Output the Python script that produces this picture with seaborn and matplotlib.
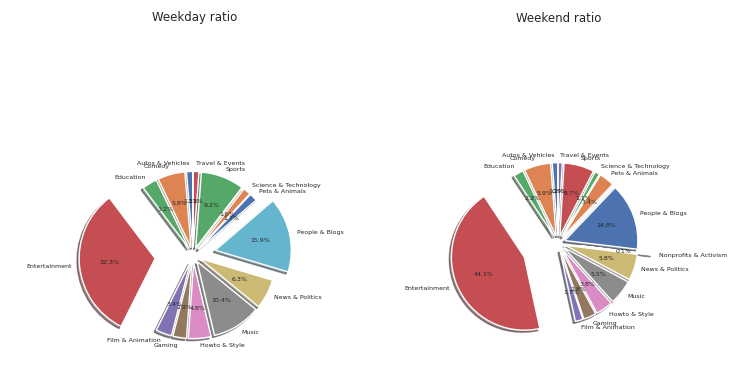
import matplotlib
matplotlib.use("Agg")
import matplotlib.pyplot as plt
import seaborn as sns

weekday_labels = ["Autos & Vehicles", "Comedy", "Education", "Entertainment",
                  "Film & Animation", "Gaming", "Howto & Style", "Music",
                  "News & Politics", "People & Blogs", "Pets & Animals",
                  "Science & Technology", "Sports", "Travel & Events"]
weekday_values = [1.3, 5.8, 3.2, 32.3, 3.4, 2.9, 4.8, 10.4, 6.3, 15.9, 1.7, 1.6, 9.2, 1.2]

weekend_labels = ["Autos & Vehicles", "Comedy", "Education", "Entertainment",
                  "Film & Animation", "Gaming", "Howto & Style", "Music",
                  "News & Politics", "Nonprofits & Activism", "People & Blogs",
                  "Pets & Animals", "Science & Technology", "Sports", "Travel & Events"]
weekend_values = [1.2, 5.9, 2.2, 44.1, 1.7, 2.8, 3.8, 5.5, 5.8, 0.1, 14.8, 3.4, 1.1, 6.7, 0.9]

sns.set_theme(style="white")
plt.rcParams["font.family"] = ["DejaVu Sans"]
palette = sns.color_palette("deep", 10)


def explode_for(n):
    ex = [0.1] * n
    ex[3] = 0.5
    ex[9] = 0.3
    return ex


W, H = 755, 375
fig = plt.figure(figsize=(W / 100, H / 100), dpi=100)


def make_ax(cx, cy, r):
    side = 2.5 * r
    return fig.add_axes([(cx - side / 2) / W, (H - cy - side / 2) / H, side / W, side / H])


ax1 = make_ax(193, 255, 76)
ax2 = make_ax(558, 243, 73)

for ax, labels, values in [(ax1, weekday_labels, weekday_values),
                           (ax2, weekend_labels, weekend_values)]:
    colors = [palette[i % 10] for i in range(len(values))]
    wedges, texts, autotexts = ax.pie(values, labels=labels, colors=colors,
                                      explode=explode_for(len(values)),
                                      autopct="%1.1f%%", shadow=True, startangle=90,
                                      textprops={"fontsize": 4.5, "color": ".15"})

fig.text(195 / W, 1 - 18 / H, "Weekday ratio", ha="center", va="center", fontsize=8.5, color=".15")
fig.text(559 / W, 1 - 18 / H, "Weekend ratio", ha="center", va="center", fontsize=8.5, color=".15")

fig.savefig("out.png", dpi=100)
